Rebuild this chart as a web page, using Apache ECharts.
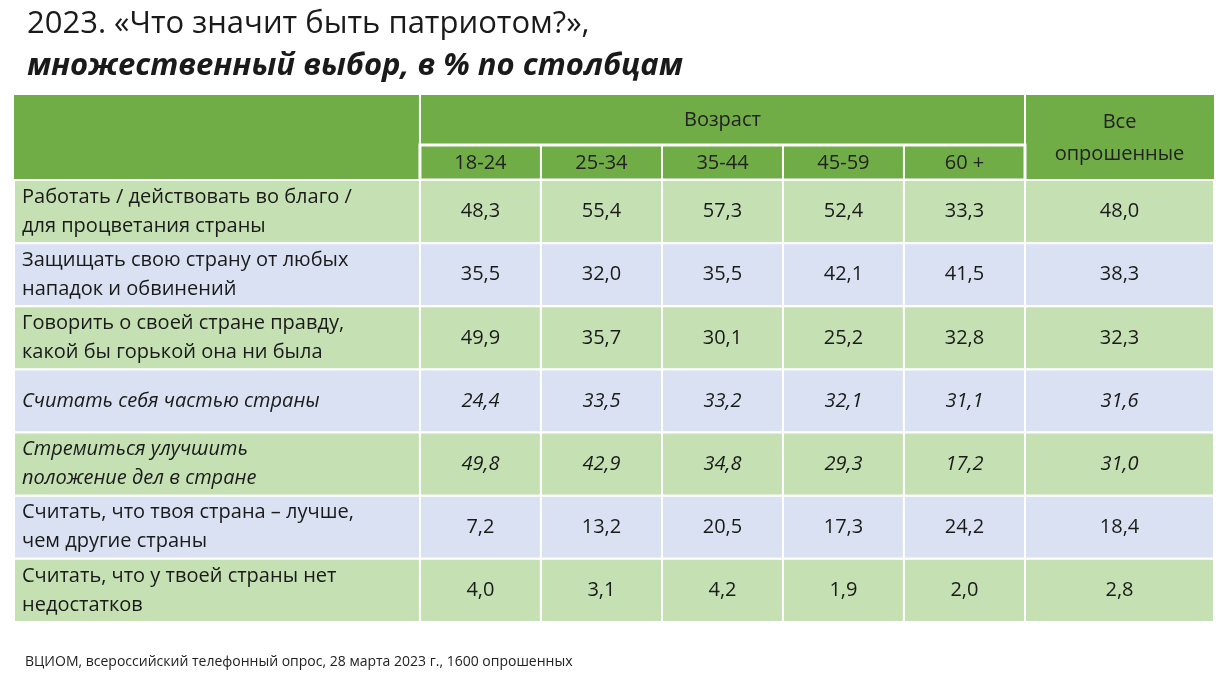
<!DOCTYPE html>
<html lang="ru">
<head>
<meta charset="UTF-8" />
<title>Патриотизм</title>
</head>
<body>
<style>
* { margin: 0; padding: 0; }
#chartEl { width: 1224px; height: 676px; background: #fff; }
</style>
<div id="chartEl"></div>
<script src="https://cdn.jsdelivr.net/npm/echarts@6/dist/echarts.min.js"></script>
<script>
const rowLabels = [
  'Работать / действовать во благо /\nдля процветания страны',
  'Защищать свою страну от любых\nнападок и обвинений',
  'Говорить о своей стране правду,\nкакой бы горькой она ни была',
  'Считать себя частью страны',
  'Стремиться улучшить\nположение дел в стране',
  'Считать, что твоя страна – лучше,\nчем другие страны',
  'Считать, что у твоей страны нет\nнедостатков'
];
const italicRows = [3, 4];
const ageGroups = ['18-24', '25-34', '35-44', '45-59', '60 +'];
const age18_24 = [48.3, 35.5, 49.9, 24.4, 49.8, 7.2, 4.0];
const age25_34 = [55.4, 32.0, 35.7, 33.5, 42.9, 13.2, 3.1];
const age35_44 = [57.3, 35.5, 30.1, 33.2, 34.8, 20.5, 4.2];
const age45_59 = [52.4, 42.1, 25.2, 32.1, 29.3, 17.3, 1.9];
const age60plus = [33.3, 41.5, 32.8, 31.1, 17.2, 24.2, 2.0];
const allRespondents = [48.0, 38.3, 32.3, 31.6, 31.0, 18.4, 2.8];

const columns = [age18_24, age25_34, age35_44, age45_59, age60plus, allRespondents];
// column edges in axis units (0..100)
const edges = [0, 33.83, 43.91, 54.0, 64.08, 74.16, 84.25, 100];
const green = '#c5e0b3', blue = '#d9e1f2', head = '#70ad47';

const cells = [];
rowLabels.forEach((t, r) => cells.push([0, r, t]));
columns.forEach((col, c) => col.forEach((v, r) => cells.push([c + 1, r, v.toFixed(1).replace('.', ',')])));

const chart = echarts.init(document.getElementById('chartEl'));
const gridLeft = 14, gridRight = 10, gridTop = 180, gridBottom = 54;
const W = 1224 - gridLeft - gridRight;
const xp = u => gridLeft + W * u / 100;

const headerGraphics = [
  { type: 'rect', shape: { x: gridLeft, y: 95, width: W, height: 85 }, style: { fill: head } },
  { type: 'line', shape: { x1: xp(edges[1]), y1: 95, x2: xp(edges[1]), y2: 180 }, style: { stroke: '#fff', lineWidth: 2 } },
  { type: 'line', shape: { x1: xp(edges[6]), y1: 95, x2: xp(edges[6]), y2: 180 }, style: { stroke: '#fff', lineWidth: 2 } },
  { type: 'rect', shape: { x: xp(edges[1]), y: 145, width: xp(edges[6]) - xp(edges[1]), height: 35 }, style: { fill: 'none', stroke: '#fff', lineWidth: 3 } },
  { type: 'text', x: (xp(edges[1]) + xp(edges[6])) / 2, y: 120, style: { text: 'Возраст', fill: '#222', font: '20px "Open Sans"', align: 'center', verticalAlign: 'middle' } },
  { type: 'text', x: (xp(edges[6]) + xp(edges[7])) / 2, y: 138, style: { text: 'Все\nопрошенные', fill: '#222', font: '20px "Open Sans"', align: 'center', verticalAlign: 'middle', lineHeight: 32 } }
];
ageGroups.forEach((g, i) => {
  headerGraphics.push({ type: 'text', x: (xp(edges[i + 1]) + xp(edges[i + 2])) / 2, y: 163,
    style: { text: g, fill: '#222', font: '20px "Open Sans"', align: 'center', verticalAlign: 'middle' } });
  if (i > 0) headerGraphics.push({ type: 'line', shape: { x1: xp(edges[i + 1]), y1: 145, x2: xp(edges[i + 1]), y2: 180 }, style: { stroke: '#fff', lineWidth: 2 } });
});

chart.setOption({
  animation: false,
  title: [
    { text: '2023. «Что значит быть патриотом?»,', left: 22, top: 4,
      textStyle: { fontFamily: 'Open Sans', fontSize: 31, fontWeight: 'normal', color: '#1a1a1a' } },
    { text: 'множественный выбор, в % по столбцам', left: 22, top: 46,
      textStyle: { fontFamily: 'Open Sans', fontSize: 31, fontWeight: 'bold', fontStyle: 'italic', color: '#1a1a1a' } },
    { text: 'ВЦИОМ, всероссийский телефонный опрос, 28 марта 2023 г., 1600 опрошенных', left: 20, top: 650,
      textStyle: { fontFamily: 'Open Sans', fontSize: 14, fontWeight: 'normal', color: '#222' } }
  ],
  grid: { left: gridLeft, right: gridRight, top: gridTop, bottom: gridBottom },
  xAxis: { type: 'value', min: 0, max: 100, show: false },
  yAxis: { type: 'category', data: rowLabels.map((_, i) => i), inverse: true, show: false },
  graphic: headerGraphics,
  series: [{
    type: 'custom',
    data: cells,
    renderItem: function (params, api) {
      const c = api.value(0), r = api.value(1);
      const x0 = api.coord([edges[c], r])[0];
      const x1 = api.coord([edges[c + 1], r])[0];
      const yc = api.coord([0, r])[1];
      const h = api.size([0, 1])[1];
      const text = cells[params.dataIndex][2];
      const italic = italicRows.includes(r) ? 'italic ' : '';
      return {
        type: 'group',
        children: [
          { type: 'rect', shape: { x: x0, y: yc - h / 2, width: x1 - x0, height: h },
            style: { fill: r % 2 === 0 ? green : blue, stroke: '#fff', lineWidth: 2 } },
          { type: 'text', x: c === 0 ? x0 + 8 : (x0 + x1) / 2, y: yc,
            style: { text: text, fill: '#1a1a1a', font: italic + '20px "Open Sans"', lineHeight: 29,
              align: c === 0 ? 'left' : 'center', verticalAlign: 'middle' } }
        ]
      };
    }
  }]
});
</script>
</body>
</html>
